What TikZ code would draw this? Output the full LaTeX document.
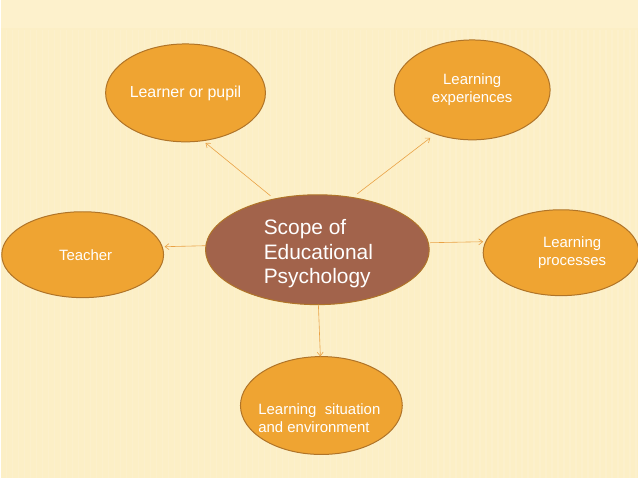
\documentclass[tikz,border=0pt]{standalone}
\usepackage{fontspec}
\setmainfont{Liberation Sans}
\usetikzlibrary{arrows.meta,shapes.geometric}
\definecolor{bg}{HTML}{FCEFC6}
\definecolor{bgtop}{HTML}{FDF1CC}
\definecolor{orfill}{HTML}{EFA432}
\definecolor{ordraw}{HTML}{B07428}
\definecolor{brfill}{HTML}{A2634B}
\definecolor{brdraw}{HTML}{B07428}
\definecolor{conn}{HTML}{E9A245}
\tikzset{
  outer/.style={ellipse, draw=ordraw, line width=1pt, fill=orfill, text=white, inner sep=0pt,
    font=\fontsize{15}{18}\selectfont, align=center},
  centre/.style={ellipse, draw=brdraw, line width=1pt, fill=brfill, inner sep=0pt},
  bigtext/.style={text=white, inner sep=0pt, font=\fontsize{21}{25}\selectfont, align=left},
  smalltext/.style={text=white, inner sep=0pt, font=\fontsize{15}{18}\selectfont, align=left},
  link/.style={draw=conn, line width=0.6pt, -{Straight Barb[length=4pt,width=6pt]}}
}
\begin{document}
\begin{tikzpicture}[x=1bp,y=-1bp]
\fill[bg] (0,0) rectangle (638,479);
\fill[bgtop] (0,0) rectangle (638,28);
\foreach \i in {0,6,...,636} {\draw[white,opacity=0.12,line width=1.5bp] (\i,30) -- (\i,479);}
\useasboundingbox (0,0) rectangle (638,479);
\node[centre, minimum width=224bp, minimum height=110bp] (c) at (317,250) {};
\node[bigtext] (ct) at (318,254) {Scope of\\Educational\\Psychology};
\node[outer, minimum width=160bp, minimum height=98bp] (lp) at (185,93) {\fontsize{16}{18}\selectfont Learner or pupil};
\node[outer, minimum width=156bp, minimum height=100bp] (le) at (472,90) {Learning\\experiences};
\node[outer, minimum width=162bp, minimum height=86bp] (t) at (82,255) {\hspace*{6bp}Teacher};
\node[outer, minimum width=156bp, minimum height=86bp] (pr) at (561,253) {\hspace*{22bp}Learning\\\hspace*{22bp}processes};
\node[outer, minimum width=162bp, minimum height=98bp] (se) at (321,406) {};
\node[smalltext] (st) at (319,419) {Learning~ situation\\and environment};
\coordinate (s1) at (270,196);
\coordinate (e1) at (205,143);
\coordinate (s2) at (357,194);
\coordinate (e2) at (430,138);
\coordinate (s3) at (205,246);
\coordinate (e3) at (164,247);
\coordinate (s4) at (430,243);
\coordinate (e4) at (483,242);
\coordinate (s5) at (318,305);
\coordinate (e5) at (320,357);
\draw[link] (s1) -- (e1);
\draw[link] (s2) -- (e2);
\draw[link] (s3) -- (e3);
\draw[link] (s4) -- (e4);
\draw[link] (s5) -- (e5);
\end{tikzpicture}
\end{document}
